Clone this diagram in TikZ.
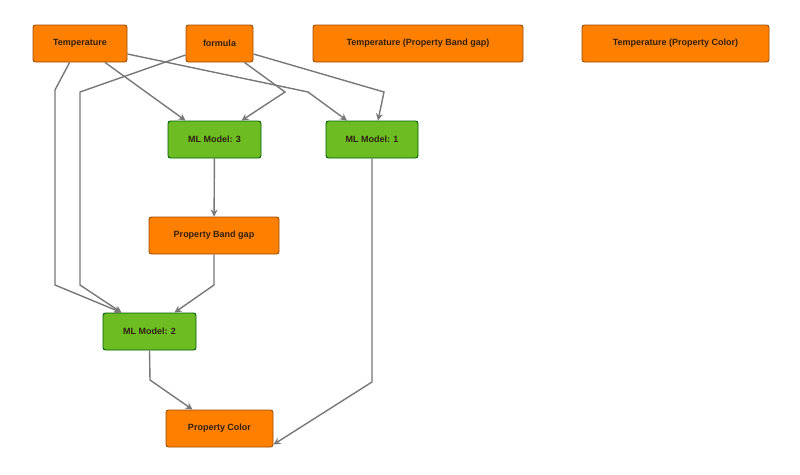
\documentclass[tikz,border=0pt]{standalone}
\usepackage{fontspec}
\setmainfont{Liberation Sans}
\usetikzlibrary{arrows.meta}
\begin{document}
\begin{tikzpicture}[x=1pt,y=-1pt,
 box/.style={draw=#1!60!black,rounded corners=2.5pt,line width=0.9pt,inner sep=0pt,text=black!75!brown,font=\bfseries\fontsize{9}{10}\selectfont},
 ob/.style={box=orange,fill={rgb,255:red,255;green,128;blue,0}},
 gb/.style={box=green!60!black,fill={rgb,255:red,108;green,188;blue,34}},
 ar/.style={draw={rgb,255:red,120;green,120;blue,120},line width=1.4pt,-{Stealth[length=7pt,width=7pt,open]}}]
\useasboundingbox (0,0) rectangle (800,474);
\node[ob,minimum width=94,minimum height=37] (t) at (80,43.5) {Temperature};
\node[ob,minimum width=67,minimum height=37] (f) at (219.5,43.5) {formula};
\node[ob,minimum width=210,minimum height=37] (tb) at (418,43.5) {Temperature (Property Band gap)};
\node[ob,minimum width=187,minimum height=37] (tc) at (675.5,43.5) {Temperature (Property Color)};
\node[gb,minimum width=93,minimum height=37] (m3) at (214.5,139.5) {ML Model: 3};
\node[gb,minimum width=92,minimum height=37] (m1) at (372,139.5) {ML Model: 1};
\node[ob,minimum width=130,minimum height=37] (pb) at (214,235.5) {Property Band gap};
\node[gb,minimum width=93,minimum height=37] (m2) at (149.5,331.5) {ML Model: 2};
\node[ob,minimum width=107,minimum height=37] (pc) at (219.5,428.5) {Property Color};
\coordinate (a1) at (55,90); \coordinate (a2) at (55,285);
\coordinate (b1) at (80,92); \coordinate (b2) at (80,285);
\coordinate (c1) at (308,92); \coordinate (d1) at (285,92); \coordinate (e1) at (384,92);
\coordinate (g1) at (214,285); \coordinate (h1) at (150,380); \coordinate (k1) at (372,382);
\draw[ar] (t.south west)++(37,0) -- (a1) -- (a2) -- ([xshift=-28]m2.north);
\draw[ar] (f.west)++(0,11.5) -- (b1) -- (b2) -- ([xshift=-28]m2.north);
\draw[ar] (t.south)++(25,0) -- ([xshift=-29]m3.north);
\draw[ar] (t.east)++(0,10.5) -- (c1) -- ([xshift=-25]m1.north);
\draw[ar] (f.south)++(25,0) -- (d1) -- ([xshift=27]m3.north);
\draw[ar] (f.east)++(0,10.5) -- (e1) -- ([xshift=6]m1.north);
\draw[ar] (m3) -- (pb);
\draw[ar] (pb.south) -- (g1) -- ([xshift=25]m2.north);
\draw[ar] (m2.south) -- (h1) -- ([xshift=-27]pc.north);
\draw[ar] (m1.south) -- (k1) -- ([yshift=-16]pc.east);
\end{tikzpicture}
\end{document}
